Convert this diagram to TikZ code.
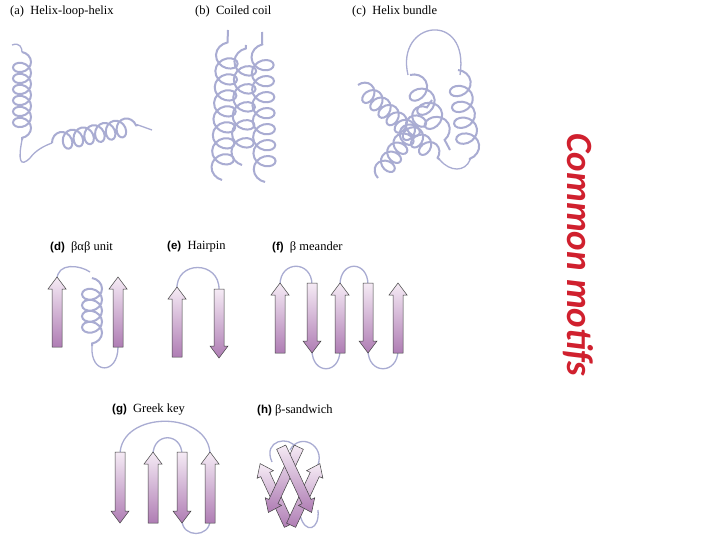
\documentclass[tikz,border=0pt]{standalone}
\usepackage{fontspec}
\setmainfont{Liberation Serif}
\setsansfont{Liberation Sans}
\newfontfamily\motfont{Carlito}
\usetikzlibrary{decorations.pathmorphing}
\definecolor{hx}{HTML}{A9ACD2}
\definecolor{mred}{HTML}{D0202E}
\tikzset{
 helix/.style={draw=hx,line width=2pt,decorate,decoration={coil,aspect=0.8,amplitude=9pt,segment length=11pt}},
 loopl/.style={draw=hx,line width=1.3pt},
 strandst/.style={draw=black!75,line width=0.5pt,top color=white!92!violet,bottom color={rgb,255:red,175;green,125;blue,180}},
 lab/.style={anchor=west,font=\fontsize{12.5}{14}\selectfont,inner sep=0pt},
}
\newcommand\strand[3]{\pgfmathsetmacro\hb{#3+12*sign(#2-#3)}%
\path[strandst] (#1-5,#2)--(#1-5,\hb)--(#1-9,\hb)--(#1,#3)--(#1+9,\hb)--(#1+5,\hb)--(#1+5,#2)--cycle;}
\newcommand\bl[1]{\textbf{\sffamily\fontsize{11.5}{14}\selectfont(#1)}}
\begin{document}
\begin{tikzpicture}[x=1pt,y=-1pt]
\useasboundingbox (0,0) rectangle (720,540);
\fill[white] (0,0) rectangle (720,540);
% labels
\node[lab] (la) at (10,11) {(a)\ \ Helix-loop-helix};
\node[lab] (lb) at (195,11) {(b)\ \ Coiled coil};
\node[lab] (lc) at (352,11) {(c)\ \ Helix bundle};
\node[lab] (ld) at (50,247) {\bl{d}\ \ βαβ unit};
\node[lab] (le) at (167,247) {\bl{e}\ \ Hairpin};
\node[lab] (lf) at (272,247) {\bl{f}\ \ β meander};
\node[lab] (lg) at (112,410) {\bl{g}\ \ Greek key};
\node[lab] (lh) at (257,410) {\bl{h}\ β-sandwich};
\node[rotate=-90,text=mred,font=\motfont\bfseries\itshape\fontsize{37}{37}\selectfont] (cm) at (578,255) {Common motifs};
% (a)
\draw[loopl] (12,45) .. controls (20,42) and (22,48) .. (22,52);
\draw[helix] (22,52) -- (22,140);
\draw[loopl] (22,140) .. controls (18,160) and (20,168) .. (30,158) .. controls (36,150) and (44,146) .. (52,143);
\draw[helix] (52,143) -- (138,125);
\draw[loopl] (138,125) -- (152,130);
% (b)
\draw[helix,decoration={amplitude=11pt,segment length=16pt}] (222,180) -- (228,30);
\draw[helix,decoration={amplitude=11pt,segment length=16pt}] (265,182) -- (262,32);
\draw[helix,decoration={amplitude=11pt,segment length=18pt}] (242,165) -- (246,45);
% (c)
\draw[loopl] (408,75) .. controls (395,20) and (470,10) .. (460,75);
\draw[helix] (358,85) -- (440,160);
\draw[helix] (378,178) -- (432,100);
\draw[helix,decoration={amplitude=11pt,segment length=16pt}] (410,75) -- (450,150);
\draw[helix,decoration={amplitude=11pt,segment length=16pt}] (458,70) -- (470,160);
\draw[loopl] (440,160) .. controls (450,172) and (465,172) .. (470,160);
% (d)
\draw[loopl] (57,280) .. controls (57,262) and (80,265) .. (90,272);
\draw[helix,decoration={amplitude=10pt,segment length=11pt}] (92,278) -- (92,346);
\draw[loopl] (92,346) .. controls (90,375) and (118,375) .. (118,347);
\strand{57}{347}{277}
\strand{118}{347}{277}
% (e)
\draw[loopl] (177,290) .. controls (175,260) and (220,260) .. (219,290);
\strand{177}{357}{287}
\strand{219}{289}{358}
% (f)
\draw[loopl] (280,285) .. controls (280,260) and (312,260) .. (312,285);
\draw[loopl] (340,285) .. controls (340,260) and (368,260) .. (368,285);
\draw[loopl] (312,350) .. controls (312,375) and (340,375) .. (340,350);
\draw[loopl] (368,350) .. controls (368,375) and (398,375) .. (398,350);
\strand{280}{353}{283}
\strand{312}{283}{353}
\strand{340}{353}{283}
\strand{368}{283}{353}
\strand{398}{353}{283}
% (g)
\draw[loopl] (120,455) .. controls (120,410) and (210,410) .. (210,455);
\draw[loopl] (153,455) .. controls (153,432) and (182,432) .. (182,455);
\draw[loopl] (182,520) .. controls (182,538) and (210,538) .. (210,520);
\strand{120}{452}{523}
\strand{153}{523}{452}
\strand{182}{452}{523}
\strand{210}{523}{452}
% (h)
\draw[loopl] (272,462) .. controls (262,440) and (290,435) .. (296,448);
\draw[loopl] (290,450) .. controls (300,432) and (325,445) .. (318,465);
\draw[loopl] (300,515) .. controls (305,535) and (320,530) .. (318,510);
\begin{scope}[shift={(290,485)}]
\begin{scope}[rotate=25]\strand{-18}{36}{-32}\end{scope}
\begin{scope}[rotate=-25]\strand{18}{36}{-32}\end{scope}
\begin{scope}[rotate=-25]\strand{-8}{-38}{34}\end{scope}
\begin{scope}[rotate=25]\strand{8}{-38}{34}\end{scope}
\end{scope}
\end{tikzpicture}
\end{document}
